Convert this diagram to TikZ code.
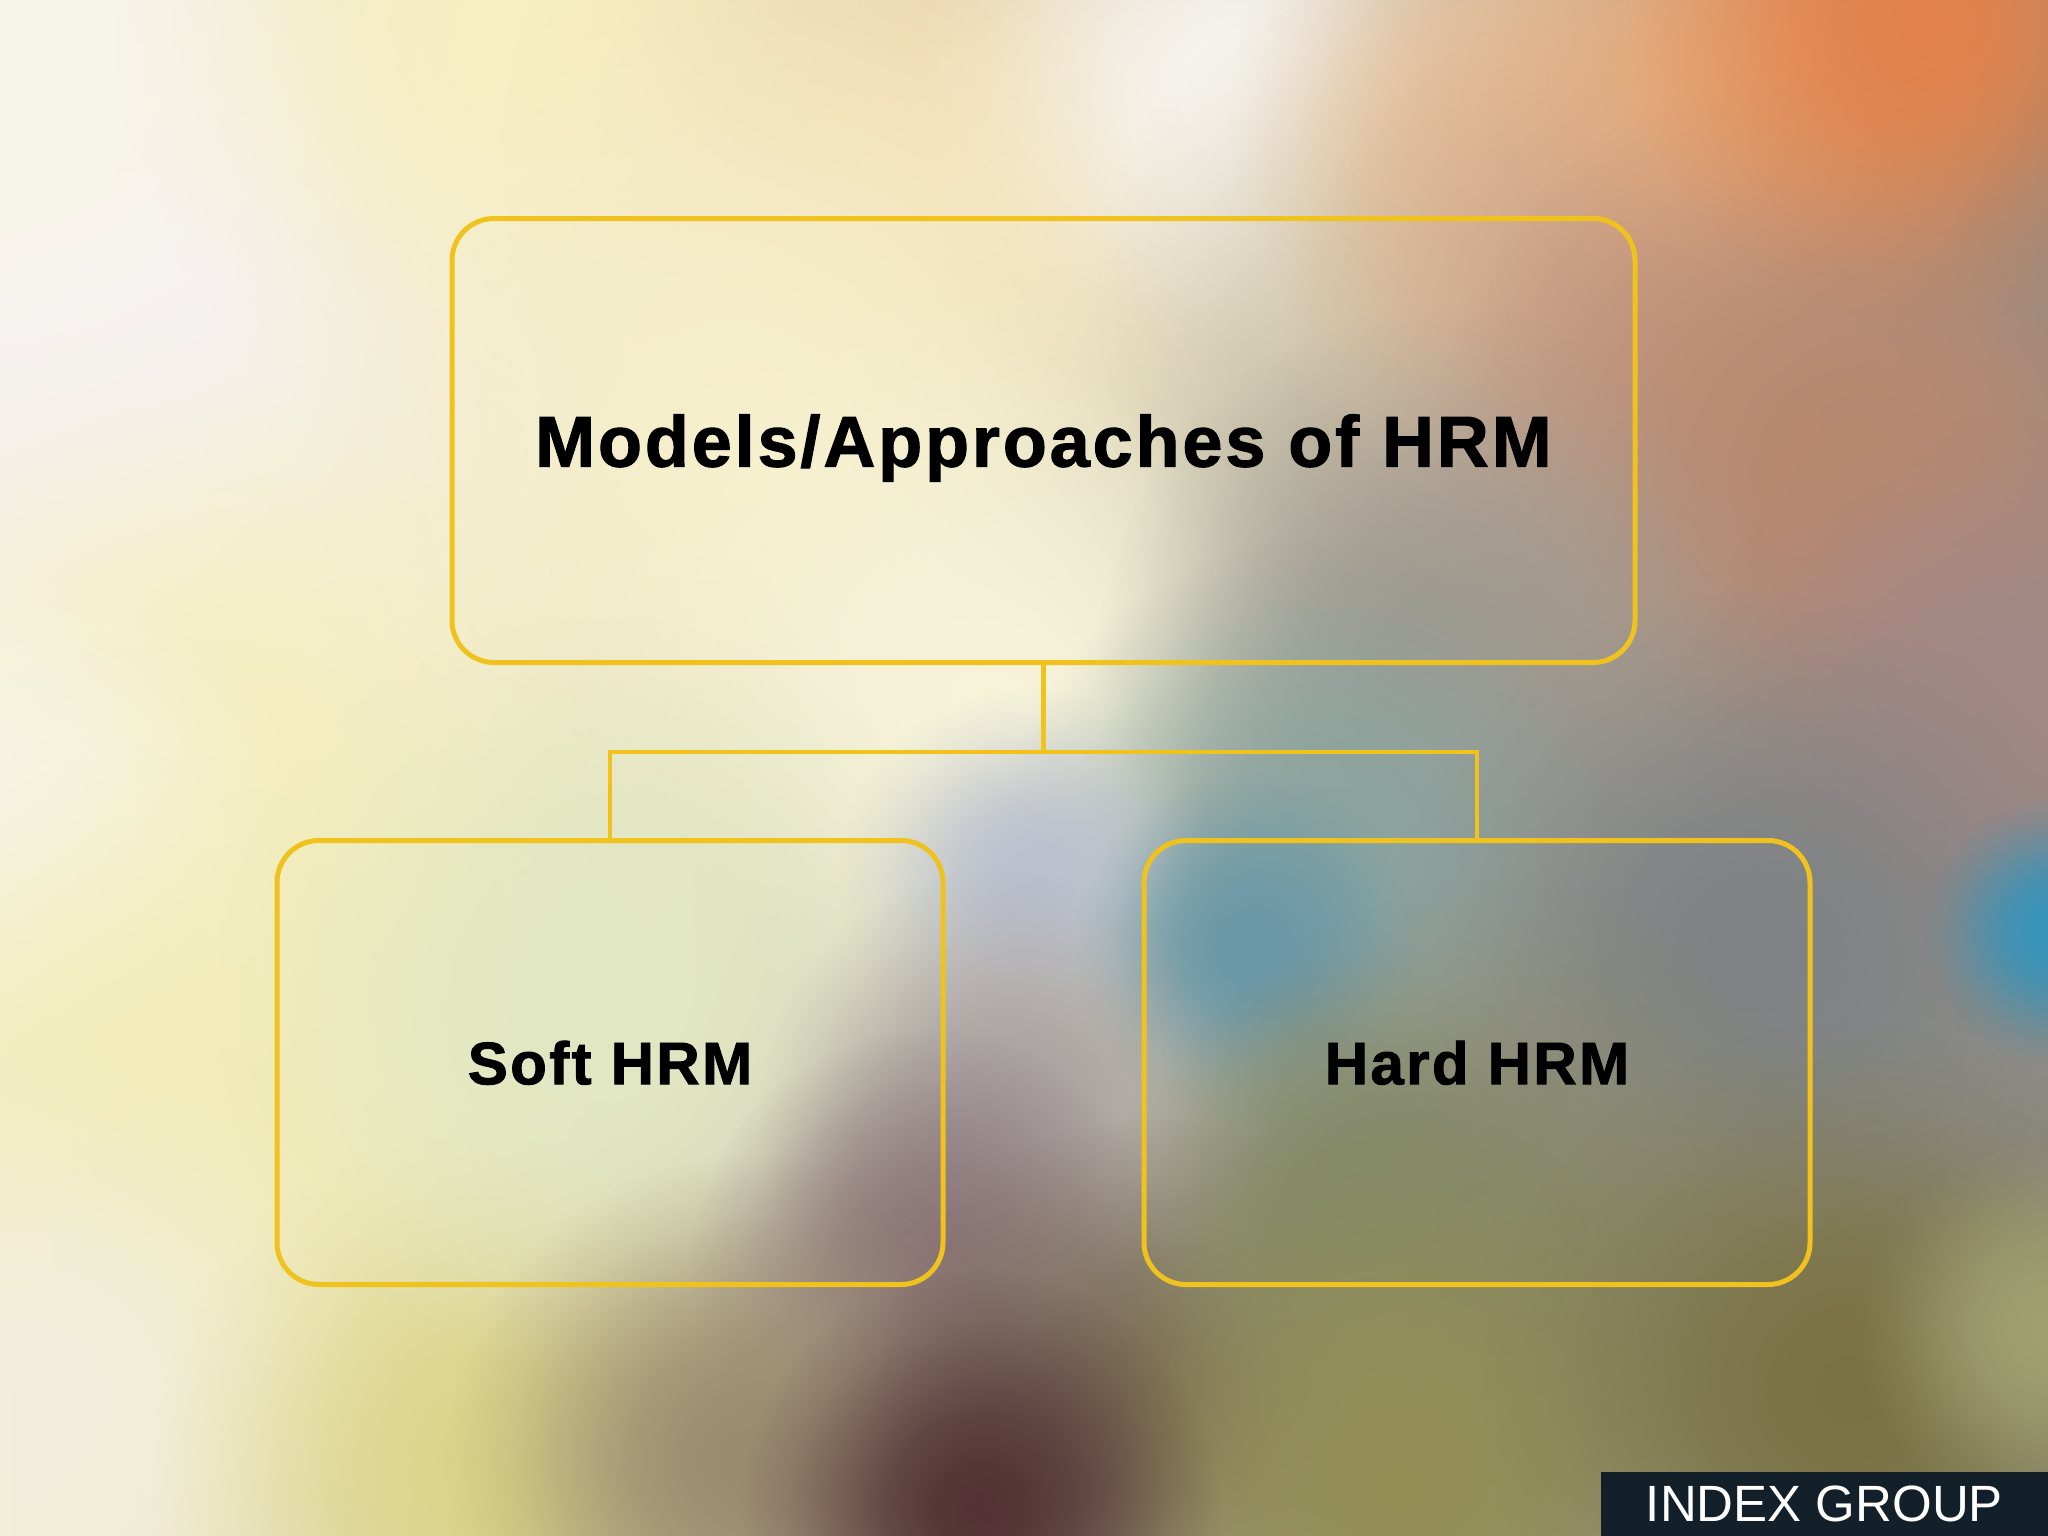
\documentclass[tikz,border=0pt]{standalone}
\usepackage{fontspec}
\setmainfont{Liberation Sans}
\newfontfamily\headfont{Liberation Sans}[LetterSpace=4, FakeBold=1.5]
\newfontfamily\tagfont{Liberation Sans}
\usetikzlibrary{fadings}

\definecolor{frameyellow}{HTML}{F0C21E}
\definecolor{tagnavy}{HTML}{13202A}
\definecolor{baseleft}{HTML}{F4EFD4}
\definecolor{baseright}{HTML}{8E8C86}

\pgfdeclareradialshading{blobshade}{\pgfpointorigin}{color(0bp)=(pgftransparent!0);
  color(5bp)=(pgftransparent!6); color(10bp)=(pgftransparent!22);
  color(15bp)=(pgftransparent!50); color(20bp)=(pgftransparent!80);
  color(25bp)=(pgftransparent!100); color(50bp)=(pgftransparent!100)}
\pgfdeclarefading{blob}{\pgfuseshading{blobshade}}

\begin{document}
\begin{tikzpicture}[x=1pt, y=-1pt,
  box/.style={draw=frameyellow, line width=5pt, rounded corners=42pt,
    minimum height=444pt, text depth=0pt,
    font=\headfont\bfseries\fontsize{60}{66}\selectfont},
  link/.style={draw=frameyellow, line width=4.5pt}]
\useasboundingbox (0,0) rectangle (2048,1536);

% blurred backdrop
\begin{scope}
\clip (0,0) rectangle (2048,1536);
\shade[left color=baseleft, right color=baseright] (0,0) rectangle (2048,1536);
\foreach \x/\y/\r/\c in {
  150/350/420/F6F2F6, 250/820/340/F6F0C0, 20/850/180/F8F6EE,
  200/1150/320/F2EDB8, 30/1400/230/F2EEDC, 520/1480/230/DCD488,
  0/50/270/F8F5EA, 550/40/270/F8F0C0, 950/150/280/F3DCB0,
  1250/90/210/F8F6F2, 750/450/340/F7F0CC, 1000/720/280/F7F4DA,
  600/1000/240/E2E8C4, 1450/300/220/D8CCB0, 1550/120/200/E6BC94,
  1650/360/230/C8A088, 1760/80/170/E6A878, 1850/470/260/B88870,
  1930/20/190/E2824A, 1990/720/190/A28886, 1450/660/220/A09A90,
  1320/860/200/8AA4A0, 1030/880/120/BAC0CE, 1250/950/110/6A98A8,
  1750/960/230/7E8284, 2060/930/85/3494BC, 1000/1110/150/A8A0A0,
  930/1270/150/8A7476, 750/1460/190/9A8A70, 1150/1390/170/7A6A58,
  1500/1250/230/88886A, 1350/1200/150/848A6A, 1400/1490/230/928E54,
  1850/1390/230/7A7242, 2048/1330/120/A0A070, 980/1510/150/523234}
  {\definecolor{blobcol}{HTML}{\c}
   \fill[blobcol, path fading=blob] (\x,\y) circle[radius=1.6*\r];}
\end{scope}

\node[box, minimum width=1183pt, font=\headfont\bfseries\fontsize{72}{78}\selectfont]
  (models) at (1043.5,440.5) {Models/Approaches of HRM};
\node[box, minimum width=666pt] (soft) at (610,1062.5) {Soft HRM};
\node[box, minimum width=666pt] (hard) at (1477,1062.5) {Hard HRM};

\coordinate (fork) at (1043.5,752);
\draw[link] (models.south) -- (fork) -| (soft.north);
\draw[link] (fork) -| (hard.north);

\node[fill=tagnavy, text=white, inner sep=0pt, minimum width=447pt,
  minimum height=64pt, font=\tagfont\fontsize{51}{56}\selectfont]
  (tag) at (1824.5,1504) {INDEX GROUP};
\end{tikzpicture}
\end{document}
